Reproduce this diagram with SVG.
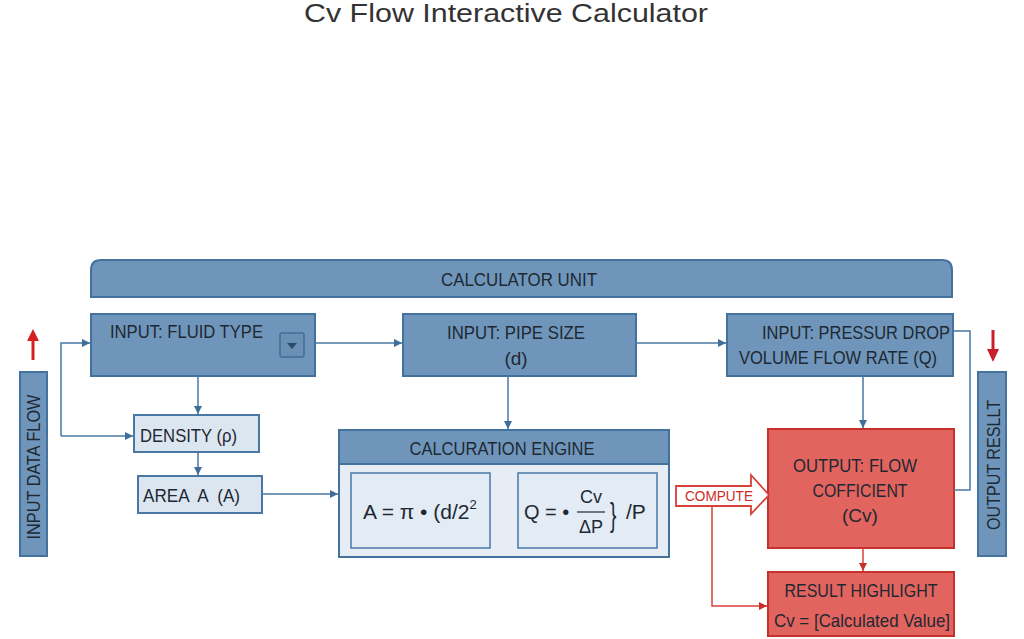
<svg xmlns="http://www.w3.org/2000/svg" width="1024" height="639" viewBox="0 0 1024 639">
<defs>
<style>
.t{font-family:"Liberation Sans",Arial,sans-serif;fill:#1e2833;font-size:19px}
.blue{fill:#6f96ba;stroke:#44729e;stroke-width:2}
.light{fill:#dce6f0;stroke:#4a78a5;stroke-width:2}
.red{fill:#e2645e;stroke:#c8302c;stroke-width:2}
.c{fill:none;stroke:#4a78a5;stroke-width:1.5}
.cr{fill:none;stroke:#d8403a;stroke-width:1.5}
</style>
<marker id="ab" viewBox="0 0 10 10" refX="10" refY="5" markerWidth="8" markerHeight="8" markerUnits="userSpaceOnUse" orient="auto"><path d="M0,0 L10,5 L0,10 z" fill="#3f6d99"/></marker>
<marker id="ar" viewBox="0 0 10 10" refX="10" refY="5" markerWidth="8" markerHeight="8" markerUnits="userSpaceOnUse" orient="auto"><path d="M0,0 L10,5 L0,10 z" fill="#c8302c"/></marker>
</defs>
<rect width="1024" height="639" fill="#ffffff"/>
<text x="506" y="22" text-anchor="middle" font-family="Liberation Sans, Arial, sans-serif" font-size="26" fill="#333" textLength="404" lengthAdjust="spacingAndGlyphs">Cv Flow Interactive Calculator</text>

<g id="calculator-unit">
<path d="M91,297 L91,270 Q91,260 101,260 L942,260 Q952,260 952,270 L952,297 Z" class="blue"/>
<text x="519" y="286" class="t" text-anchor="middle" textLength="156" lengthAdjust="spacingAndGlyphs">CALCULATOR UNIT</text>
</g>

<g id="input-data-flow">
<rect x="20" y="372" width="27" height="184" class="blue"/>
<text transform="translate(40,467) rotate(-90)" class="t" text-anchor="middle" textLength="145" lengthAdjust="spacingAndGlyphs">INPUT DATA FLOW</text>
<path d="M33,360 L33,340" stroke="#d42020" stroke-width="3"/>
<path d="M27,341 L33,329 L39,341 Z" fill="#d42020"/>
</g>

<g id="fluid-type">
<rect x="91" y="314" width="224" height="62" class="blue"/>
<text x="110" y="338" class="t" textLength="153" lengthAdjust="spacingAndGlyphs">INPUT: FLUID TYPE</text>
<rect x="280" y="333" width="24" height="24" rx="2" fill="#6a90b4" stroke="#3f6d99" stroke-width="1.5"/>
<path d="M287,343 L297,343 L292,349 Z" fill="#2a4a6a"/>
</g>

<g id="density">
<rect x="134" y="415" width="125" height="37" class="light"/>
<text x="140" y="442" class="t" textLength="97" lengthAdjust="spacingAndGlyphs">DENSITY (ρ)</text>
</g>

<g id="area">
<rect x="138" y="476" width="124" height="37" class="light"/>
<text x="143" y="502" class="t" textLength="97" lengthAdjust="spacingAndGlyphs" xml:space="preserve">AREA  A  (A)</text>
</g>

<g id="pipe-size">
<rect x="403" y="314" width="233" height="62" class="blue"/>
<text x="516" y="339" class="t" text-anchor="middle" textLength="138" lengthAdjust="spacingAndGlyphs">INPUT: PIPE SIZE</text>
<text x="516" y="365" class="t" text-anchor="middle">(d)</text>
</g>

<g id="calculation-engine">
<rect x="339" y="430" width="330" height="127" fill="#e6edf5" stroke="#44729e" stroke-width="2"/>
<rect x="339" y="430" width="330" height="34" fill="#6f96ba" stroke="#44729e" stroke-width="2"/>
<text x="502" y="455" class="t" text-anchor="middle" textLength="185" lengthAdjust="spacingAndGlyphs">CALCURATION ENGINE</text>
<rect x="351" y="473" width="139" height="75" fill="#e3ebf4" stroke="#4a78a5" stroke-width="1.5"/>
<rect x="518" y="473" width="139" height="75" fill="#e3ebf4" stroke="#4a78a5" stroke-width="1.5"/>
<text x="363" y="519" class="t" style="font-size:21px">A = π • (d/2<tspan style="font-size:13px" dy="-10">2</tspan></text>
<text x="524" y="519" class="t" style="font-size:20px" xml:space="preserve">Q = •</text>
<text x="591" y="503" class="t" style="font-size:18px" text-anchor="middle">Cv</text>
<line x1="577" y1="512" x2="605" y2="512" stroke="#1e2833" stroke-width="1.2"/>
<text x="591" y="533" class="t" style="font-size:18px" text-anchor="middle">ΔP</text>
<text transform="translate(610,526) scale(1,1.7)" class="t" style="font-size:19px">}</text>
<text x="626" y="519" class="t" style="font-size:21px">/P</text>
</g>

<g id="pressure-drop">
<rect x="727" y="314" width="226" height="62" class="blue"/>
<text x="762" y="339" class="t" textLength="188" lengthAdjust="spacingAndGlyphs">INPUT: PRESSUR DROP</text>
<text x="739" y="364" class="t" textLength="198" lengthAdjust="spacingAndGlyphs">VOLUME FLOW RATE (Q)</text>
</g>

<g id="output-result">
<rect x="978" y="372" width="28" height="184" class="blue"/>
<text transform="translate(1000,465) rotate(-90)" class="t" text-anchor="middle" textLength="130" lengthAdjust="spacingAndGlyphs">OUTPUT RESLLT</text>
<path d="M993,330 L993,350" stroke="#c8202a" stroke-width="3"/>
<path d="M987,349 L993,362 L999,349 Z" fill="#c8202a"/>
</g>

<g id="flow-coefficient">
<rect x="768" y="429" width="186" height="119" class="red"/>
<text x="855" y="472" class="t" text-anchor="middle" textLength="124" lengthAdjust="spacingAndGlyphs">OUTPUT: FLOW</text>
<text x="860" y="497" class="t" text-anchor="middle" textLength="95" lengthAdjust="spacingAndGlyphs">COFFICIENT</text>
<text x="860" y="522" class="t" text-anchor="middle">(Cv)</text>
</g>

<g id="result-highlight">
<rect x="768" y="572" width="186" height="64" class="red"/>
<text x="861" y="597" class="t" text-anchor="middle" textLength="153" lengthAdjust="spacingAndGlyphs">RESULT HIGHLIGHT</text>
<text x="862" y="627" class="t" text-anchor="middle" textLength="176" lengthAdjust="spacingAndGlyphs">Cv = [Calculated Value]</text>
</g>

<g id="compute">
<path d="M676,486 L751,486 L751,475 L769,495 L751,514 L751,506 L676,506 Z" fill="#ffffff" stroke="#d8403a" stroke-width="1.8"/>
<text x="719" y="501" font-family="Liberation Sans, Arial, sans-serif" font-size="14" fill="#d02a26" text-anchor="middle" textLength="68" lengthAdjust="spacingAndGlyphs">COMPUTE</text>
</g>

<g id="connectors">
<path d="M61,436 L61,343 L90,343" class="c" marker-end="url(#ab)"/>
<path d="M61,436 L133,436" class="c" marker-end="url(#ab)"/>
<path d="M198,376 L198,414" class="c" marker-end="url(#ab)"/>
<path d="M198,452 L198,475" class="c" marker-end="url(#ab)"/>
<path d="M262,494 L338,494" class="c" marker-end="url(#ab)"/>
<path d="M315,343 L402,343" class="c" marker-end="url(#ab)"/>
<path d="M508,376 L508,429" class="c" marker-end="url(#ab)"/>
<path d="M636,343 L726,343" class="c" marker-end="url(#ab)"/>
<path d="M863,376 L863,428" class="c" marker-end="url(#ab)"/>
<path d="M953,331 L970,331 L970,490 L954,490" class="c"/>
<path d="M863,548 L863,571" class="cr" marker-end="url(#ar)"/>
<path d="M712,507 L712,606 L767,606" class="cr" marker-end="url(#ar)"/>
</g>
</svg>
